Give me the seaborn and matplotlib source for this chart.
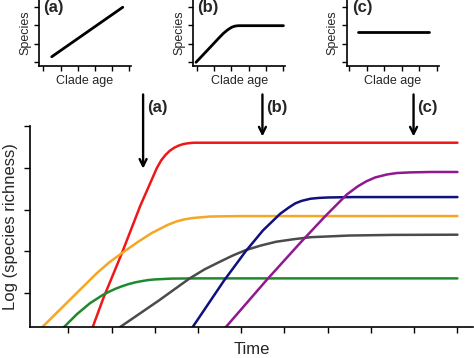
import matplotlib
matplotlib.use("Agg")
import matplotlib.pyplot as plt
import seaborn as sns

# ---- data (time in tick units, log richness in tick units) ----
red_t = [1.55, 1.81, 2.24, 2.66, 3.05, 3.15, 3.25, 3.35, 3.45, 3.55, 3.65, 3.75, 3.90, 10.0]
red_y = [0.15, 0.88, 1.96, 3.08, 4.00, 4.18, 4.31, 4.41, 4.48, 4.53, 4.565, 4.585, 4.60, 4.60]

orange_t = [0.36, 1.19, 1.66, 1.95, 2.24, 2.60, 2.93, 3.12, 3.30, 3.51, 3.70, 3.89, 4.28, 4.97, 10.0]
orange_y = [0.15, 1.00, 1.48, 1.74, 1.96, 2.22, 2.44, 2.54, 2.635, 2.72, 2.77, 2.80, 2.835, 2.845, 2.846]

green_t = [0.86, 1.20, 1.50, 1.80, 1.95, 2.10, 2.25, 2.40, 2.55, 2.70, 2.85, 3.00, 3.40, 4.00, 10.0]
green_y = [0.15, 0.50, 0.76, 0.96, 1.04, 1.11, 1.17, 1.22, 1.26, 1.29, 1.315, 1.33, 1.35, 1.355, 1.355]

gray_t = [2.14, 3.10, 3.80, 4.15, 4.50, 4.80, 5.10, 5.45, 5.80, 6.20, 6.60, 7.50, 8.50, 10.0]
gray_y = [0.15, 0.83, 1.35, 1.57, 1.75, 1.90, 2.03, 2.14, 2.23, 2.29, 2.34, 2.38, 2.395, 2.40]

navy_t = [3.85, 4.60, 5.10, 5.50, 5.90, 6.10, 6.25, 6.40, 6.60, 6.80, 7.00, 7.60, 10.0]
navy_y = [0.15, 1.30, 2.00, 2.50, 2.90, 3.05, 3.15, 3.21, 3.26, 3.28, 3.29, 3.30, 3.30]

purple_t = [4.61, 5.59, 6.36, 6.94, 7.44, 7.70, 7.90, 8.10, 8.37, 8.60, 8.90, 9.40, 10.0]
purple_y = [0.15, 1.32, 2.20, 2.84, 3.36, 3.56, 3.68, 3.77, 3.84, 3.875, 3.89, 3.90, 3.90]

# small panels: species vs clade age
pa_age = [1.49, 5.62]
pa_sp = [1.30, 3.97]
pb_age = [0.96, 1.96, 2.30, 2.54, 2.80, 3.02, 3.20, 3.40, 6.01]
pb_sp = [1.00, 1.99, 2.33, 2.56, 2.76, 2.89, 2.95, 2.975, 2.975]
pc_age = [1.48, 5.56]
pc_sp = [2.62, 2.62]

arrow_t = [2.73, 5.49, 8.985]
arrow_tip = [3.98, 4.75, 4.75]
arrow_labels = ["(a)", "(b)", "(c)"]

sns.set_style("ticks")
plt.rcParams["font.family"] = ["Liberation Sans", "DejaVu Sans"]

fig = plt.figure(figsize=(4.74, 3.58), dpi=100)

# ---- main panel ----
ax = fig.add_axes([30 / 474, (358 - 326.5) / 358, 443 / 474, 200.5 / 358])
curves = [
    (red_t, red_y, "#ee1818"),
    (orange_t, orange_y, "#f5a623"),
    (green_t, green_y, "#1d8a2e"),
    (gray_t, gray_y, "#4b4b4b"),
    (navy_t, navy_y, "#10107e"),
    (purple_t, purple_y, "#901890"),
]
for t, y, c in curves:
    sns.lineplot(x=t, y=y, color=c, linewidth=1.8, ax=ax, sort=False)

ax.set_xlim(0.114, 10.36)
ax.set_ylim(0.204, 5.0)
ax.set_xticks(range(1, 11))
ax.set_yticks(range(1, 6))
ax.set_xticklabels([])
ax.set_yticklabels([])
ax.tick_params(length=4.5, width=1.0, color="black")
sns.despine(ax=ax)
for s in ["left", "bottom"]:
    ax.spines[s].set_linewidth(1.2)
    ax.spines[s].set_color("black")
ax.set_xlabel("Time", fontsize=12, labelpad=3)
ax.set_ylabel("Log (species richness)", fontsize=12, labelpad=1)

for t, tip, lab in zip(arrow_t, arrow_tip, arrow_labels):
    ax.annotate("", xy=(t, tip), xytext=(t, 5.755), annotation_clip=False,
                arrowprops=dict(arrowstyle="->,head_length=0.5,head_width=0.25",
                                lw=1.7, color="black", shrinkA=0, shrinkB=0))
    ax.text(t + 0.085, 5.45, lab, fontsize=12, fontweight="bold",
            ha="left", va="center", clip_on=False)

# ---- small panels ----
small = [
    (39.3, 130.5, 0.767, 6.07, pa_age, pa_sp, "(a)", 0.98),
    (193.3, 285.0, 0.803, 6.10, pb_age, pb_sp, "(b)", 1.02),
    (346.7, 438.5, 0.851, 6.106, pc_age, pc_sp, "(c)", 1.14),
]
for left, right, x0, x1, age, sp, lab, lx in small:
    sax = fig.add_axes([left / 474, (358 - 65.7) / 358, (right - left) / 474, 65.7 / 358])
    sns.lineplot(x=age, y=sp, color="black", linewidth=2.0, ax=sax, sort=False)
    sax.set_xlim(x0, x1)
    sax.set_ylim(0.817, 4.36)
    sax.set_xticks(range(1, 7))
    sax.set_yticks(range(1, 5))
    sax.set_xticklabels([])
    sax.set_yticklabels([])
    sax.tick_params(length=3.5, width=1.0, color="black")
    sns.despine(ax=sax)
    for s in ["left", "bottom"]:
        sax.spines[s].set_linewidth(1.2)
        sax.spines[s].set_color("black")
    sax.set_xlabel("Clade age", fontsize=9, labelpad=0)
    sax.set_ylabel("Species", fontsize=9, labelpad=-1)
    sax.text(lx, 3.96, lab, fontsize=12, fontweight="bold", ha="left", va="center")

fig.savefig("out.png", dpi=100)
